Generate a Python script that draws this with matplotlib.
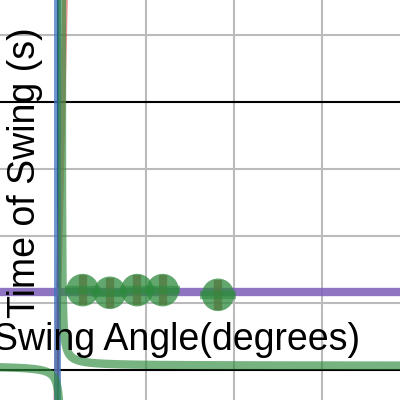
import numpy as np
import matplotlib.pyplot as plt

angle = [0.28, 0.59, 0.90, 1.19, 1.82]
time = [1.19, 1.15, 1.19, 1.19, 1.12]
xerr = [0.2, 0.2, 0.2, 0.2, 0.2]
yerr = [0.22, 0.22, 0.22, 0.22, 0.22]
mean_time = 1.16
curve_c, curve_a, curve_x0 = 0.06, 0.015, 0.04

plt.rcParams['font.family'] = ['Liberation Sans', 'DejaVu Sans']
fig = plt.figure(figsize=(4, 4), dpi=100)
ax = fig.add_axes([0, 0, 1, 1])
ax.set_xlim(-0.66, 3.89)
ax.set_ylim(-0.45, 5.52)
for gx in [1, 2, 3]:
    ax.axvline(gx, color='#bbbbbb', lw=1.5, zorder=0)
for gy in [1, 2, 3, 5]:
    ax.axhline(gy, color='#bbbbbb', lw=1.5, zorder=0)
ax.axhline(0, color='black', lw=1.5, zorder=1)
ax.axhline(4, color='black', lw=1.5, zorder=1)
ax.axvline(0, color='black', lw=1.5, zorder=1)

ax.axhline(mean_time, color='#7b5cb8', lw=6, alpha=0.85, zorder=2)
ax.plot([-0.02, 0.08], [-0.45, 5.52], color='#d9534f', lw=4, alpha=0.6, zorder=3)
ax.axvline(-0.01, color='#3b74c0', lw=5, alpha=0.75, zorder=3)

xs = np.linspace(curve_x0 + 0.001, 3.89, 800)
ax.plot(xs, curve_c + curve_a / (xs - curve_x0), color='#2e8b3e', lw=6, alpha=0.65, zorder=4)
xl = np.linspace(-0.66, curve_x0 - 0.001, 400)
ax.plot(xl, curve_c + curve_a / (xl - curve_x0), color='#2e8b3e', lw=6, alpha=0.65, zorder=4)

ax.errorbar(angle, time, yerr=yerr, fmt='none', ecolor='#c0504d', elinewidth=6, alpha=0.8, zorder=5)
ax.errorbar(angle, time, xerr=xerr, fmt='none', ecolor='#2e8b3e', elinewidth=6, alpha=0.6, zorder=5)
ax.scatter(angle, time, s=550, color='#2e8b3e', alpha=0.75, zorder=6, edgecolors='none')

ax.text(3.44, 0.45, 'Swing Angle(degrees)', fontsize=27, ha='right', va='center', zorder=7)
ax.text(-0.38, 2.95, 'Time of Swing (s)', fontsize=27, rotation=90, ha='center', va='center', zorder=7)
ax.axis('off')
fig.savefig('out.png', dpi=100)
